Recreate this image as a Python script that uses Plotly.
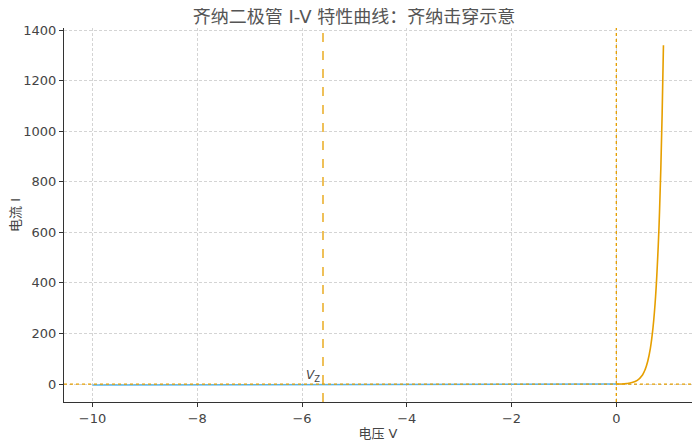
import plotly.graph_objects as go

# ---- data ----
reverse_v = [-10.0, -8.0, -6.0, -5.6, -4.0, -2.0, -1.0, 0.0]
reverse_i = [-3.8, -3.2, -2.6, -2.5, -2.0, -1.2, -0.6, 0.0]

forward_v = [0.0, 0.1, 0.2, 0.3, 0.4, 0.5, 0.55, 0.6, 0.65, 0.7, 0.75, 0.8, 0.825, 0.85, 0.875, 0.9]
forward_i = [0.0, 0.2, 2.0, 5.7, 14.5, 36, 57, 90, 141, 222, 347, 545, 682, 854, 1070, 1340]

vz = -5.6
x_ticks = [-10, -8, -6, -4, -2, 0]
y_ticks = [0, 200, 400, 600, 800, 1000, 1200, 1400]

title_text = "齐纳二极管 I-V 特性曲线：齐纳击穿示意"
x_label = "电压 V"
y_label = "电流 I"

BLUE = "#56B4E9"
ORANGE = "#E69F00"
FONT = "DejaVu Sans, Noto Sans CJK SC, sans-serif"

fig = go.Figure()
fig.add_trace(go.Scatter(x=reverse_v, y=reverse_i, mode="lines",
                         line=dict(color=BLUE, width=1.6), showlegend=False))
fig.add_trace(go.Scatter(x=forward_v, y=forward_i, mode="lines", line_shape="spline",
                         line=dict(color=ORANGE, width=1.6), showlegend=False))

# reference lines
fig.add_vline(x=vz, line=dict(color=ORANGE, width=1.3, dash="dash"))
fig.add_vline(x=0, line=dict(color=ORANGE, width=1.3, dash="dot"))
fig.add_hline(y=0, line=dict(color=ORANGE, width=1.3, dash="dot"))

fig.add_annotation(x=vz, y=0, text="<i>V</i><sub>Z</sub>", showarrow=False,
                   xanchor="right", yanchor="bottom", xshift=-1, yshift=-2,
                   font=dict(size=12, color="#444", family=FONT))

axis_common = dict(showline=True, linecolor="#333", linewidth=1, mirror=False,
                   ticks="outside", ticklen=4, tickcolor="#333", automargin=False,
                   showgrid=True, gridcolor="#d4d4d4", griddash="3px,2px", gridwidth=0.8,
                   zeroline=False, tickfont=dict(size=13, color="#444", family=FONT))

fig.update_xaxes(range=[-10.545, 1.445], tickvals=x_ticks,
                 ticktext=[("\u2212" + str(abs(t))) if t < 0 else str(t) for t in x_ticks],
                 title=dict(text=x_label, font=dict(size=13, color="#444", family=FONT), standoff=1),
                 **axis_common)
fig.update_yaxes(range=[-71, 1408], tickvals=y_ticks,
                 title=dict(text=y_label, font=dict(size=13, color="#444", family=FONT), standoff=4),
                 **axis_common)

# the page body adds an 8px offset, so the figure is sized to fit the window
fig.update_layout(
    width=692, height=436,
    margin=dict(l=56, r=8, t=20, b=42),
    plot_bgcolor="white", paper_bgcolor="white",
    title=dict(text=title_text, x=0.5, xanchor="center", y=0.979, yanchor="middle",
               font=dict(size=18, color="#555", family=FONT)),
    font=dict(family=FONT),
)

fig.write_html("out.html")
